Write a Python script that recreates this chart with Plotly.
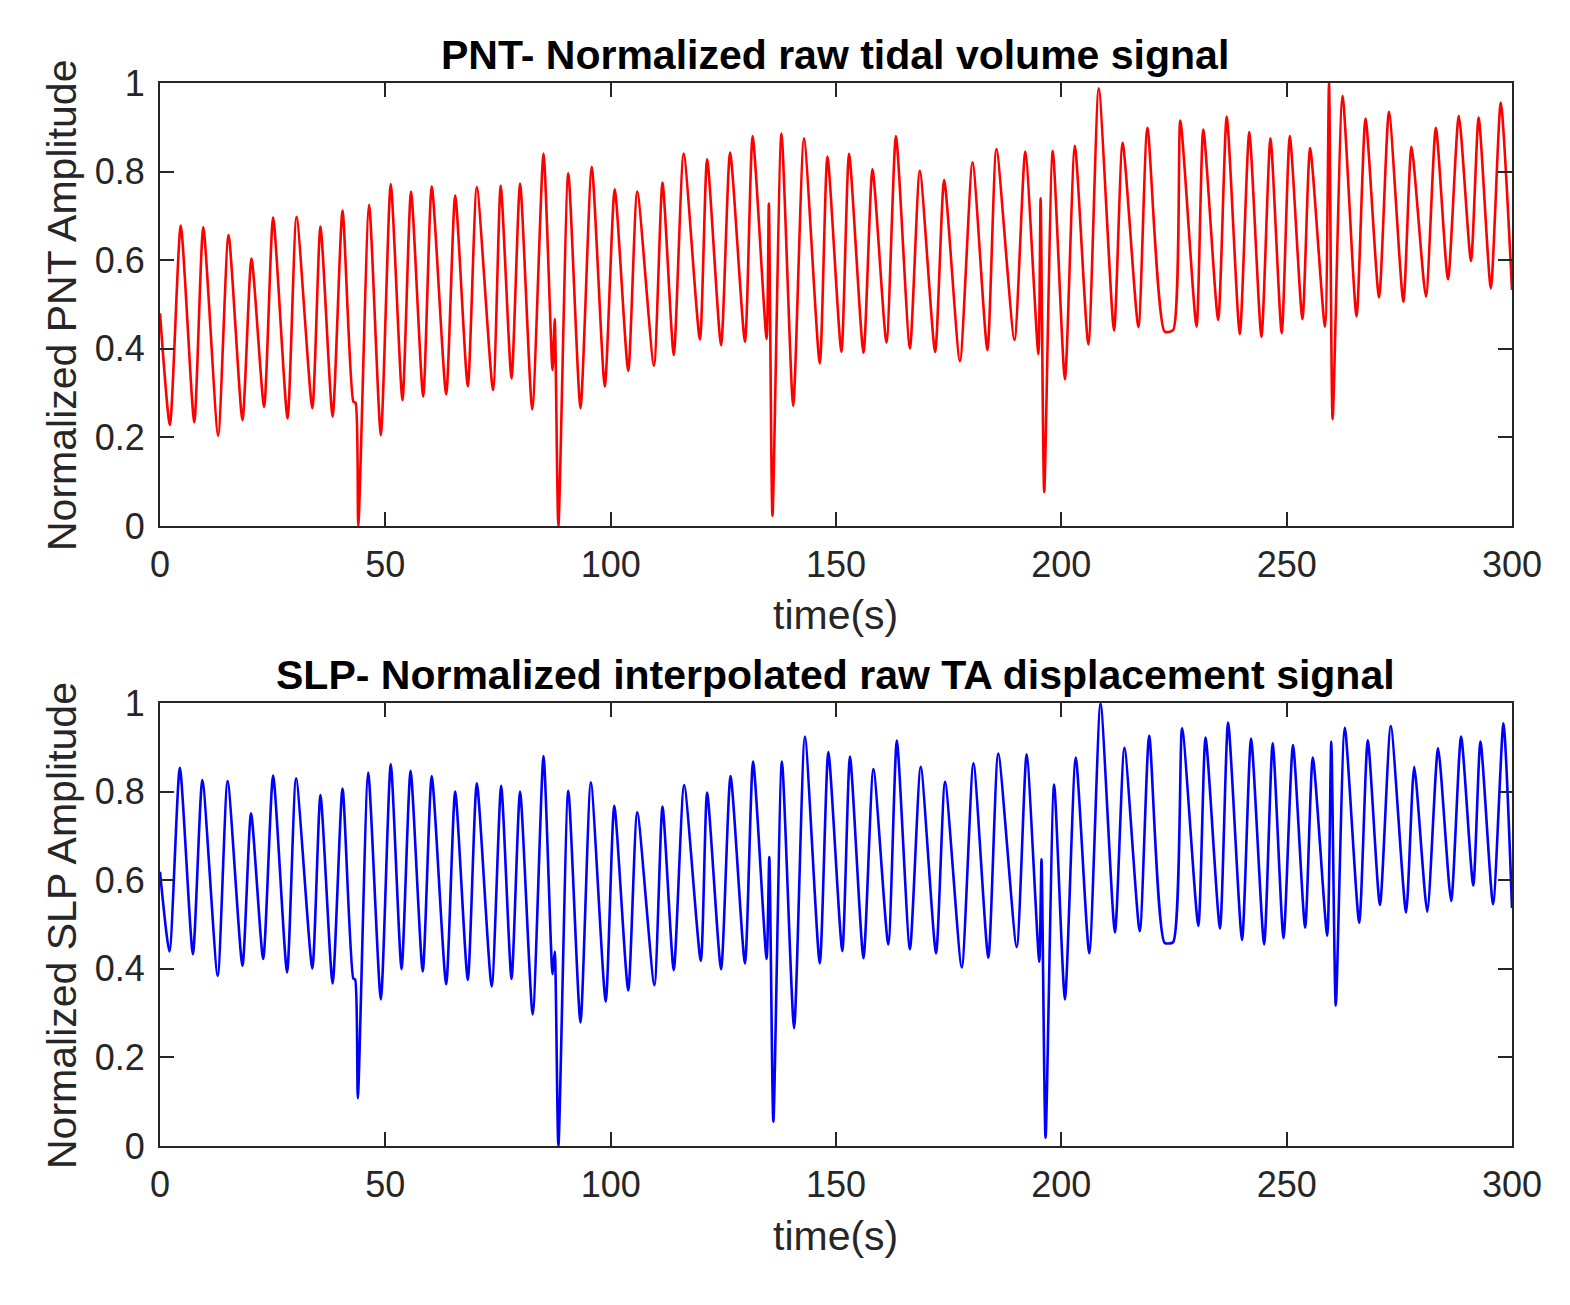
import plotly.graph_objects as go

# ---------------- data ----------------
pnt_time = [
    0.0, 2.2, 4.6, 7.6, 9.6, 12.9, 15.2, 18.3, 20.3, 23.1,
    25.1, 28.3, 30.3, 33.8, 35.6, 38.3, 40.5, 42.9, 43.4, 44.0,
    46.4, 49.0, 51.2, 53.8, 55.7, 58.4, 60.3, 63.5, 65.5, 68.3,
    70.3, 73.9, 75.6, 78.0, 79.9, 82.6, 85.1, 87.1, 87.6, 88.4,
    90.6, 93.3, 95.8, 98.7, 100.9, 103.9, 105.9, 109.6, 111.5, 114.0,
    116.2, 119.8, 121.4, 124.5, 126.5, 129.8, 131.5, 134.6, 135.1, 135.9,
    137.9, 140.5, 142.9, 146.4, 148.1, 151.2, 152.9, 156.1, 158.1, 161.2,
    163.3, 166.4, 168.6, 172.0, 174.0, 177.5, 180.3, 183.6, 185.6, 189.6,
    192.0, 194.9, 195.4, 196.2, 198.1, 200.8, 203.0, 206.0, 208.3, 211.7,
    213.6, 217.1, 219.1, 222.9, 224.8, 226.4, 230.0, 231.5, 234.8, 236.7,
    239.6, 241.7, 244.4, 246.4, 248.9, 250.7, 253.5, 255.2, 258.5, 259.4,
    260.2, 262.4, 265.5, 267.5, 270.5, 272.7, 275.9, 277.7, 280.9, 283.1,
    285.8, 288.2, 290.9, 292.6, 295.3, 297.5, 300.0,
]
pnt_amp = [
    0.480, 0.228, 0.678, 0.234, 0.674, 0.204, 0.657, 0.239, 0.604, 0.269,
    0.696, 0.243, 0.698, 0.266, 0.676, 0.247, 0.712, 0.281, 0.278, 0.000,
    0.725, 0.205, 0.772, 0.284, 0.755, 0.292, 0.767, 0.297, 0.746, 0.315,
    0.765, 0.307, 0.768, 0.333, 0.773, 0.263, 0.841, 0.352, 0.467, 0.000,
    0.796, 0.266, 0.811, 0.315, 0.760, 0.350, 0.755, 0.362, 0.775, 0.386,
    0.841, 0.421, 0.828, 0.408, 0.843, 0.416, 0.880, 0.422, 0.728, 0.023,
    0.886, 0.271, 0.875, 0.367, 0.834, 0.393, 0.840, 0.391, 0.805, 0.414,
    0.880, 0.401, 0.802, 0.393, 0.781, 0.372, 0.821, 0.397, 0.851, 0.420,
    0.845, 0.388, 0.740, 0.077, 0.847, 0.331, 0.858, 0.410, 0.988, 0.441,
    0.865, 0.449, 0.899, 0.439, 0.442, 0.915, 0.450, 0.895, 0.465, 0.924,
    0.433, 0.889, 0.427, 0.875, 0.435, 0.880, 0.467, 0.853, 0.450, 1.000,
    0.241, 0.971, 0.473, 0.920, 0.516, 0.935, 0.506, 0.856, 0.518, 0.899,
    0.557, 0.926, 0.598, 0.922, 0.537, 0.956, 0.533,
]

slp_time = [
    0.0, 2.1, 4.4, 7.3, 9.4, 12.8, 15.0, 18.3, 20.2, 22.9,
    25.1, 28.2, 30.2, 33.8, 35.6, 38.3, 40.5, 42.9, 43.3, 43.9,
    46.2, 49.0, 51.2, 53.6, 55.6, 58.3, 60.3, 63.5, 65.5, 68.3,
    70.3, 73.6, 75.7, 78.0, 79.9, 82.7, 85.1, 87.1, 87.6, 88.4,
    90.6, 93.3, 95.6, 98.9, 100.8, 103.9, 105.9, 109.7, 111.5, 114.0,
    116.3, 120.0, 121.4, 124.5, 126.6, 129.8, 131.6, 134.6, 135.2, 136.1,
    138.0, 140.7, 143.1, 146.4, 148.3, 151.4, 153.1, 156.1, 158.3, 161.6,
    163.5, 166.4, 168.8, 172.2, 174.2, 177.9, 180.5, 183.8, 186.0, 190.1,
    192.3, 195.1, 195.6, 196.5, 198.4, 200.8, 203.2, 206.2, 208.7, 211.9,
    214.0, 217.4, 219.5, 222.9, 224.8, 226.8, 230.4, 232.0, 235.2, 237.0,
    240.1, 242.1, 245.0, 246.9, 249.3, 251.4, 254.1, 255.8, 259.0, 259.9,
    260.9, 262.9, 266.1, 268.0, 270.7, 273.1, 276.5, 278.3, 281.2, 283.6,
    286.5, 288.7, 291.4, 293.0, 295.8, 298.1, 300.0,
]
slp_amp = [
    0.619, 0.439, 0.854, 0.433, 0.826, 0.384, 0.824, 0.407, 0.751, 0.422,
    0.836, 0.392, 0.830, 0.401, 0.792, 0.367, 0.807, 0.378, 0.376, 0.108,
    0.843, 0.331, 0.862, 0.399, 0.847, 0.394, 0.835, 0.365, 0.800, 0.375,
    0.819, 0.360, 0.813, 0.377, 0.800, 0.297, 0.880, 0.388, 0.439, 0.000,
    0.802, 0.279, 0.821, 0.326, 0.768, 0.351, 0.753, 0.363, 0.766, 0.397,
    0.815, 0.418, 0.798, 0.399, 0.835, 0.412, 0.868, 0.422, 0.652, 0.055,
    0.868, 0.266, 0.924, 0.412, 0.889, 0.440, 0.879, 0.424, 0.851, 0.455,
    0.915, 0.444, 0.856, 0.435, 0.822, 0.403, 0.864, 0.425, 0.886, 0.449,
    0.884, 0.416, 0.647, 0.019, 0.816, 0.331, 0.877, 0.435, 0.999, 0.482,
    0.899, 0.485, 0.926, 0.459, 0.460, 0.943, 0.497, 0.922, 0.491, 0.956,
    0.465, 0.920, 0.455, 0.909, 0.469, 0.905, 0.493, 0.877, 0.475, 0.913,
    0.317, 0.944, 0.504, 0.916, 0.544, 0.948, 0.527, 0.856, 0.529, 0.898,
    0.553, 0.924, 0.588, 0.913, 0.546, 0.954, 0.537,
]

x_ticks = [0, 50, 100, 150, 200, 250, 300]
y_ticks = [0, 0.2, 0.4, 0.6, 0.8, 1]
y_tick_labels = ["0", "0.2", "0.4", "0.6", "0.8", "1"]

titles = ["PNT- Normalized raw tidal volume signal",
          "SLP- Normalized interpolated raw TA displacement signal"]
y_labels = ["Normalized PNT Amplitude", "Normalized SLP Amplitude"]
x_label = "time(s)"

# ---------------- figure ----------------
W, H = 1570, 1305
ML, MR, MT, MB = 160, 58, 83, 159
ph = H - MT - MB  # plotting height in px
pw = W - ML - MR

def py2paper(py):
    return (H - MB - py) / ph

def px2paper(px):
    return (px - ML) / pw

fig = go.Figure()
fig.add_trace(go.Scatter(x=pnt_time, y=pnt_amp, mode="lines",
                         line=dict(color="#ff0000", width=2.6, shape="spline", smoothing=0.6),
                         xaxis="x", yaxis="y", showlegend=False))
fig.add_trace(go.Scatter(x=slp_time, y=slp_amp, mode="lines",
                         line=dict(color="#0000ff", width=2.6, shape="spline", smoothing=0.6),
                         xaxis="x2", yaxis="y2", showlegend=False))

tick_font = dict(family="Liberation Sans, Arial, sans-serif", size=36, color="#262626")
axis_common = dict(showline=True, linecolor="#262626", linewidth=2, mirror="ticks",
                   ticks="inside", ticklen=14, tickwidth=2, tickcolor="#262626",
                   showgrid=False, zeroline=False, tickfont=tick_font)

top_dom = [py2paper(526), py2paper(83)]
bot_dom = [py2paper(1146), py2paper(703)]

fig.update_layout(
    width=W, height=H,
    margin=dict(l=ML, r=MR, t=MT, b=MB),
    paper_bgcolor="white", plot_bgcolor="white",
    xaxis=dict(domain=[0, 1], anchor="y", range=[0, 300], tickvals=x_ticks,
               ticklabelstandoff=6, **axis_common),
    yaxis=dict(domain=top_dom, anchor="x", range=[0, 1], tickvals=y_ticks,
               ticktext=y_tick_labels, ticklabelstandoff=6, **axis_common),
    xaxis2=dict(domain=[0, 1], anchor="y2", range=[0, 300], tickvals=x_ticks,
                ticklabelstandoff=6, **axis_common),
    yaxis2=dict(domain=bot_dom, anchor="x2", range=[0, 1], tickvals=y_ticks,
                ticktext=y_tick_labels, ticklabelstandoff=6, **axis_common),
)

label_font = dict(family="Liberation Sans, Arial, sans-serif", size=41, color="#262626")
title_font = dict(family="Liberation Sans, Arial, sans-serif", size=41, color="black")

for i, (tcy, lcy, ycy) in enumerate([(55, 615, 306), (675, 1236, 926)]):
    fig.add_annotation(x=px2paper(835), y=py2paper(tcy), xref="paper", yref="paper",
                       text="<b>" + titles[i] + "</b>", showarrow=False,
                       font=title_font, xanchor="center", yanchor="middle")
    fig.add_annotation(x=px2paper(835), y=py2paper(lcy), xref="paper", yref="paper",
                       text=x_label, showarrow=False, font=label_font,
                       xanchor="center", yanchor="middle")
    fig.add_annotation(x=px2paper(62), y=py2paper(ycy), xref="paper", yref="paper",
                       text=y_labels[i], showarrow=False, font=label_font, textangle=-90,
                       xanchor="center", yanchor="middle")

fig.write_html("out.html")
